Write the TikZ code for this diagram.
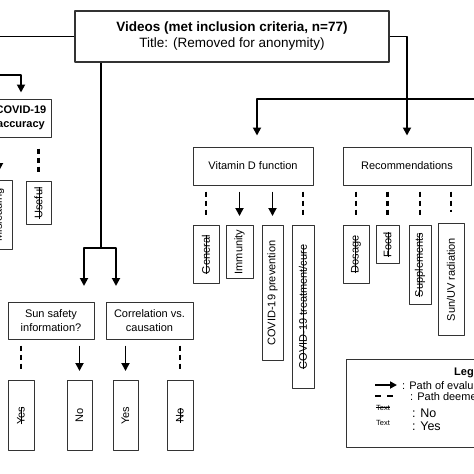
\documentclass[tikz,border=0pt]{standalone}
\usepackage{fontspec}
\setmainfont{Liberation Sans}
\usetikzlibrary{arrows.meta}

\newsavebox\strikebox
\newcommand\strike[1]{\sbox\strikebox{#1}\rlap{\rule[0.27em]{\wd\strikebox}{0.6pt}}\usebox\strikebox}
\newcommand\up[1]{\rotatebox{90}{#1}}

\tikzset{
	box/.style={draw=black!80, line width=1pt, inner sep=0pt, align=center,
		font=\fontsize{11}{14}\selectfont},
	evalpath/.style={-{Triangle[length=8pt,width=8pt]}, line width=1.8pt},
	skippath/.style={line width=2.5pt, dash pattern=on 5pt off 4pt},
	gap/.style={shorten <=6pt, shorten >=9pt},
	legtext/.style={inner sep=0pt, anchor=base west, font=\fontsize{11}{13}\selectfont}
}

\begin{document}
\begin{tikzpicture}[x=1pt, y=-1pt, line join=round]
	\useasboundingbox (0,0) rectangle (474,474);
	\clip (0,0) rectangle (474,474);
	
	% Top box
	\node[box, line width=1.3pt, minimum width=314pt, minimum height=51pt,
		font=\fontsize{13.5}{16}\selectfont] (videos) at (232,36.5)
		{\textbf{Videos (met inclusion criteria, n=77)}\\Title: (Removed for anonymity)};
	
	% Category boxes
	\node[box, font=\bfseries\fontsize{11}{14}\selectfont, minimum width=60pt, minimum height=38pt] (acc) at (21,118) {COVID-19\\accuracy};
	\node[box, minimum width=120pt, minimum height=38pt] (vitd) at (253,166) {Vitamin D function};
	\node[box, minimum width=128pt, minimum height=38pt] (rec) at (407,166) {Recommendations};
	\node[box, minimum width=86pt, minimum height=37pt] (sun) at (51,320.5) {Sun safety\\information?};
	\node[box, minimum width=87pt, minimum height=37pt] (corr) at (149.5,320.5) {Correlation vs.\\causation};
	
	% COVID-19 accuracy
	\node[box, anchor=north, minimum width=26pt, minimum height=69pt] (mis) at (-1,180) {\up{\strike{Misleading}}};
	\node[box, anchor=north, minimum width=25pt, minimum height=43pt] (useful) at (38.5,181) {\up{\strike{Useful}}};
	
	% Vitamin D function
	\node[box, anchor=north, minimum width=26pt, minimum height=58pt] (gen) at (206,225) {\up{\strike{General}}};
	\node[box, anchor=north, minimum width=27pt, minimum height=53pt] (imm) at (239.5,225) {\up{Immunity}};
	\node[box, anchor=north, minimum width=21pt, minimum height=135pt] (prev) at (272.5,225) {\up{COVID-19 prevention}};
	\node[box, anchor=north, minimum width=22pt, minimum height=163pt] (cure) at (303,225) {\up{\strike{COVID-19 treatment/cure}}};
	
	% Recommendations
	\node[box, anchor=north, minimum width=26pt, minimum height=58pt] (dose) at (356,225) {\up{\strike{Dosage}}};
	\node[box, anchor=north, minimum width=23pt, minimum height=38pt] (food) at (387.5,225) {\up{\strike{Food}}};
	\node[box, anchor=north, minimum width=22pt, minimum height=79pt] (supp) at (420,225) {\up{\strike{Supplements}}};
	\node[box, anchor=north, minimum width=26pt, minimum height=112pt] (uv) at (451,223) {\up{Sun/UV radiation}};
	
	% Sun safety / correlation
	\node[box, anchor=north, minimum width=26pt, minimum height=70pt] (sunyes) at (21,380) {\up{\strike{Yes}}};
	\node[box, anchor=north, minimum width=25pt, minimum height=70pt] (sunno) at (79.5,380) {\up{No}};
	\node[box, anchor=north, minimum width=25pt, minimum height=70pt] (corryes) at (125.5,380) {\up{Yes}};
	\node[box, anchor=north, minimum width=26pt, minimum height=70pt] (corrno) at (180,380) {\up{\strike{No}}};
	
	% Routing from the top box
	\coordinate (offleft) at (-20,75);
	\coordinate (offright) at (500,99);
	\coordinate (split) at (101,248);
	\coordinate (sunin) at (84,286);
	\coordinate (corrin) at (116,286);
	\draw[line width=1.8pt] (videos.west) -- ++(-100,0);
	\draw[evalpath, shorten >=6pt] (offleft) -| (acc.north);
	\draw[line width=1.8pt] (101,0 |- videos.south) -- (split);
	\draw[evalpath] (split) -| (sunin);
	\draw[evalpath] (split) -| (corrin);
	\draw[evalpath, shorten >=11pt] (videos.east) -| (rec.north);
	\draw[evalpath, shorten >=11pt] (offright) -| ([xshift=4pt]vitd.north);
	
	% Paths to the sub boxes
	\draw[evalpath, shorten <=11pt, shorten >=9pt] (acc.south -| mis.north) -- (mis.north);
	\draw[skippath, shorten <=11pt, shorten >=9pt] (acc.south -| useful.north) -- (useful.north);
	
	\draw[skippath, gap] (vitd.south -| gen.north) -- (gen.north);
	\draw[evalpath, gap] (vitd.south -| imm.north) -- (imm.north);
	\draw[evalpath, gap] (vitd.south -| prev.north) -- (prev.north);
	\draw[skippath, gap] (vitd.south -| cure.north) -- (cure.north);
	
	\foreach \sub in {dose,food,supp}
		\draw[skippath, gap] (rec.south -| \sub.north) -- (\sub.north);
	\draw[skippath, shorten <=6pt, shorten >=11pt] (rec.south -| uv.north) -- (uv.north);
	
	\draw[skippath, gap] (sun.south -| sunyes.north) -- (sunyes.north);
	\draw[evalpath, gap] (sun.south -| sunno.north) -- (sunno.north);
	\draw[evalpath, gap] (corr.south -| corryes.north) -- (corryes.north);
	\draw[skippath, gap] (corr.south -| corrno.north) -- (corrno.north);
	
	% Legend
	\node[draw=black!80, line width=1.2pt, inner sep=0pt, anchor=north west,
		minimum width=160pt, minimum height=88pt] (legend) at (346,359) {};
	\node[legtext, font=\bfseries\fontsize{11}{13}\selectfont] (legtitle) at (454,375) {Legend};
	\coordinate (arrowa) at (375,385);
	\coordinate (arrowb) at (397,385);
	\coordinate (dasha) at (375,396);
	\coordinate (dashb) at (394,396);
	\draw[evalpath, -{Triangle[length=7pt,width=7pt]}] (arrowa) -- (arrowb);
	\draw[line width=2.5pt, dash pattern=on 6pt off 6pt] (dasha) -- (dashb);
	\node[legtext] (legeval) at (402,389) {: Path of evaluation};
	\node[legtext] (legskip) at (410,400) {: Path deemed};
	\node[legtext, font=\fontsize{7.5}{9}\selectfont] (legno) at (376,410) {\strike{Text}};
	\node[legtext, font=\fontsize{7.5}{9}\selectfont] (legyes) at (376,425) {Text};
	\node[legtext, font=\fontsize{12.5}{14}\selectfont] (noval) at (412,417) {: No};
	\node[legtext, font=\fontsize{12.5}{14}\selectfont] (yesval) at (412,430) {: Yes};
\end{tikzpicture}
\end{document}
